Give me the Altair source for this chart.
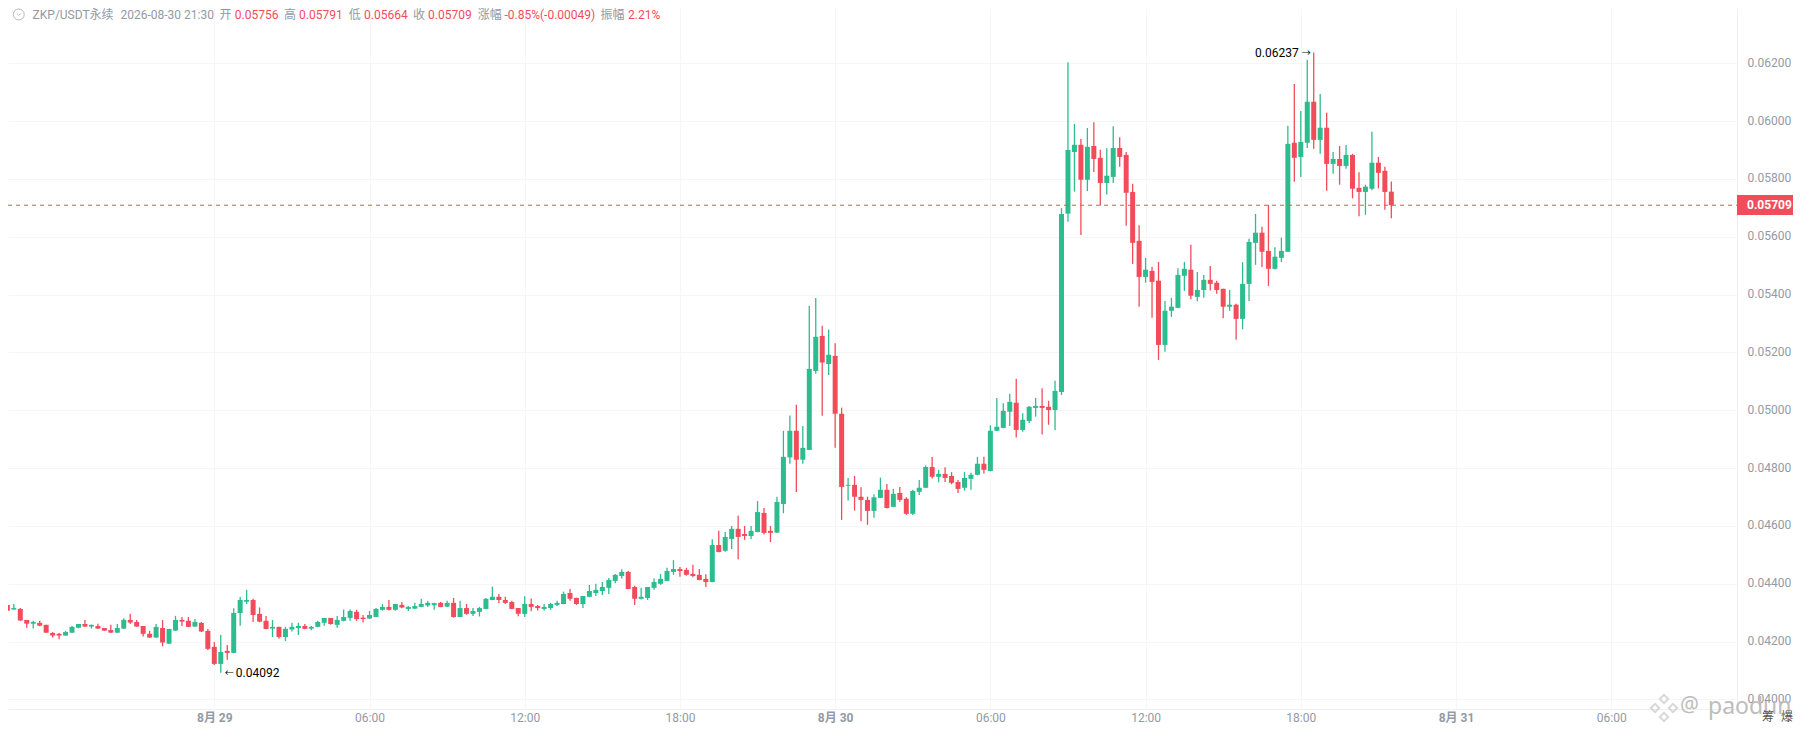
import altair as alt
import pandas as pd

# OHLC of the 15 minute candles, in units of 0.00001 USDT
OPEN = [4297,4327,4311,4313,4275,4262,4265,4258,4230,4227,
4221,4231,4248,4261,4252,4254,4247,4240,4231,4245,
4275,4268,4254,4227,4214,4247,4193,4238,4275,4272,
4252,4265,4237,4182,4123,4168,4161,4299,4338,4344,
4296,4272,4245,4251,4216,4242,4247,4254,4245,4251,
4265,4282,4258,4272,4282,4303,4283,4280,4285,4310,
4320,4310,4327,4313,4314,4320,4325,4326,4334,4321,
4334,4285,4316,4296,4303,4313,4344,4355,4344,4337,
4316,4296,4330,4323,4313,4316,4327,4330,4368,4351,
4330,4355,4368,4375,4386,4410,4427,4441,4389,4348,
4351,4386,4400,4410,4441,4451,4448,4434,4431,4417,
4406,4534,4514,4555,4590,4572,4565,4579,4645,4583,
4577,4676,4837,4929,4829,4863,5136,5257,5160,5188,
4988,4739,4742,4701,4690,4652,4697,4725,4666,4714,
4694,4642,4718,4732,4804,4770,4780,4773,4752,4732,
4763,4777,4815,4790,4929,4939,4995,5026,4932,4963,
5008,5015,5012,5001,5063,5680,5893,5918,5797,5914,
5873,5786,5807,5907,5883,5755,5586,5461,5482,5448,
5226,5344,5354,5465,5486,5392,5416,5451,5441,5420,
5358,5365,5316,5437,5579,5614,5551,5489,5527,5548,
5925,5876,5925,6067,5935,5977,5852,5869,5845,5883,
5769,5755,5766,5856,5828,5756]
HIGH = [4329,4337,4330,4316,4275,4272,4272,4258,4233,4230,
4237,4254,4261,4275,4259,4262,4247,4258,4261,4281,
4296,4275,4254,4237,4261,4275,4244,4289,4285,4285,
4278,4268,4244,4199,4223,4188,4315,4354,4379,4348,
4318,4289,4275,4251,4251,4265,4265,4261,4254,4272,
4282,4282,4289,4311,4311,4310,4292,4306,4316,4330,
4344,4331,4337,4323,4334,4348,4341,4334,4337,4341,
4351,4341,4330,4316,4320,4351,4390,4365,4355,4341,
4316,4357,4349,4327,4330,4334,4341,4373,4382,4352,
4358,4396,4400,4406,4420,4434,4450,4444,4393,4386,
4389,4418,4434,4455,4482,4458,4455,4466,4451,4433,
4554,4583,4579,4600,4635,4600,4600,4686,4662,4600,
4701,4929,4982,5019,4946,5361,5388,5292,5279,5232,
5009,4766,4773,4734,4701,4710,4767,4745,4728,4735,
4699,4725,4759,4809,4838,4794,4803,4786,4759,4787,
4784,4839,4839,4948,5042,5024,5057,5109,4990,5015,
5043,5076,5033,5102,5699,6203,5990,5938,5976,5996,
5901,5906,5982,5944,5893,5783,5640,5527,5496,5513,
5378,5389,5491,5513,5572,5478,5468,5499,5448,5420,
5416,5368,5512,5593,5679,5635,5710,5564,5597,5984,
6128,6035,6212,6237,6094,6029,5893,5914,5917,5887,
5823,5780,5963,5876,5842,5791]
LOW = [4296,4306,4310,4272,4248,4245,4253,4230,4214,4208,
4220,4230,4246,4251,4245,4244,4237,4230,4230,4244,
4261,4251,4218,4213,4213,4184,4192,4237,4254,4250,
4251,4233,4171,4119,4092,4137,4160,4255,4330,4268,
4267,4243,4216,4210,4202,4235,4223,4243,4239,4250,
4255,4258,4248,4270,4272,4272,4266,4278,4284,4307,
4308,4307,4315,4306,4313,4319,4320,4310,4319,4320,
4283,4285,4293,4289,4287,4312,4343,4333,4330,4312,
4288,4285,4305,4308,4308,4310,4323,4329,4341,4327,
4316,4353,4358,4361,4365,4402,4418,4381,4327,4346,
4344,4379,4396,4409,4431,4424,4428,4423,4412,4389,
4405,4509,4511,4520,4485,4552,4555,4578,4570,4544,
4576,4644,4815,4717,4815,4862,5126,4981,5122,4870,
4621,4688,4653,4616,4604,4628,4696,4660,4665,4684,
4638,4638,4707,4731,4764,4751,4752,4744,4714,4722,
4725,4775,4781,4789,4928,4938,4946,4906,4926,4956,
4978,4916,4950,4931,5053,5652,5756,5606,5758,5824,
5708,5746,5786,5842,5638,5506,5358,5441,5320,5174,
5202,5323,5353,5413,5384,5377,5389,5414,5403,5318,
5344,5244,5280,5378,5503,5495,5430,5487,5512,5547,
5790,5807,5907,5904,5887,5759,5818,5780,5835,5733,
5671,5676,5761,5767,5693,5664]
CLOSE = [4325,4307,4316,4273,4262,4268,4255,4231,4221,4221,
4233,4251,4261,4252,4258,4245,4238,4231,4247,4275,
4266,4252,4227,4214,4251,4197,4244,4275,4269,4251,
4268,4235,4175,4123,4164,4161,4299,4344,4344,4292,
4269,4244,4251,4216,4244,4251,4254,4244,4251,4268,
4282,4261,4275,4285,4306,4278,4278,4292,4313,4320,
4310,4330,4318,4320,4323,4330,4334,4333,4320,4334,
4285,4316,4296,4306,4316,4348,4355,4344,4334,4313,
4296,4330,4320,4316,4320,4330,4334,4365,4348,4330,
4358,4375,4379,4389,4413,4431,4441,4382,4348,4355,
4389,4406,4417,4444,4451,4444,4431,4427,4413,4406,
4534,4510,4562,4590,4562,4565,4583,4648,4576,4576,
4683,4839,4929,4829,4870,5143,5254,5165,5192,4988,
4735,4742,4701,4690,4652,4699,4725,4662,4711,4690,
4642,4721,4732,4804,4770,4780,4766,4749,4728,4766,
4777,4815,4794,4929,4943,4998,5029,4932,4967,5012,
5015,5008,5001,5067,5679,5900,5918,5797,5911,5869,
5786,5811,5907,5876,5752,5579,5461,5486,5444,5226,
5344,5358,5468,5489,5396,5416,5451,5437,5416,5358,
5365,5316,5437,5582,5614,5548,5489,5531,5551,5921,
5873,5928,6067,5935,5977,5852,5869,5845,5883,5766,
5755,5773,5856,5821,5755,5709]
assert len(OPEN) == len(HIGH) == len(LOW) == len(CLOSE) == 216

Y_TICKS = [0.040, 0.042, 0.044, 0.046, 0.048, 0.050, 0.052, 0.054, 0.056, 0.058, 0.060, 0.062]
X_TICKS = [33, 57, 81, 105, 129, 153, 177, 201, 225, 249]
X_LABELS = ["8月 29", "06:00", "12:00", "18:00", "8月 30", "06:00", "12:00", "18:00", "8月 31", "06:00"]
LAST_PRICE = 0.05709
MAX_HIGH = 0.06237
MIN_LOW = 0.04092
MAX_I, MIN_I = 203, 34

GREEN = "#2DBC8E"
RED = "#F24C5B"
GREY = "#929AA5"
GRID = "#F6F6F6"
FONT = "Roboto, 'Noto Sans CJK SC', sans-serif"

W, H = 1729, 701
df = pd.DataFrame({
    "i": range(216),
    "o": [v / 1e5 for v in OPEN],
    "h": [v / 1e5 for v in HIGH],
    "l": [v / 1e5 for v in LOW],
    "c": [v / 1e5 for v in CLOSE],
})
df["dir"] = ["up" if c >= o else "down" for o, c in zip(OPEN, CLOSE)]

xs = alt.Scale(domain=[1.10, 268.45], nice=False, zero=False, padding=0)
ys = alt.Scale(domain=[0.03967, 0.06391], nice=False, zero=False)
cs = alt.Scale(domain=["up", "down"], range=[GREEN, RED])
label_js = "[" + ",".join(f"'{t}'" for t in X_LABELS) + "][(datum.value-33)/24]"

x_axis = alt.Axis(values=X_TICKS, labelExpr=label_js, title=None, grid=True, gridColor=GRID,
                  ticks=False, domainColor="#F0F0F0", labelColor=GREY, labelFont=FONT, labelFontSize=12,
                  labelFontWeight={"condition": {"test": "(datum.value-33)%96==0", "value": "bold"}, "value": "normal"},
                  labelPadding=3, labelOverlap=False, labelFlush=False)
y_axis = alt.Axis(values=Y_TICKS, format=".5f", orient="right", title=None, grid=True, gridColor=GRID,
                  ticks=False, domainColor="#F0F0F0", labelColor=GREY, labelFont=FONT, labelFontSize=12,
                  labelPadding=10, labelOffset=-1, labelOverlap=False, labelFlush=False)

base = alt.Chart(df)
wicks = base.mark_rule(strokeWidth=1.3, clip=True).encode(
    x=alt.X("i:Q", scale=xs, axis=x_axis),
    y=alt.Y("l:Q", scale=ys, axis=y_axis),
    y2="h:Q",
    color=alt.Color("dir:N", scale=cs, legend=None),
)
bodies = base.mark_bar(size=5, clip=True, orient="vertical").encode(
    x=alt.X("i:Q", scale=xs),
    y=alt.Y("o:Q", scale=ys),
    y2="c:Q",
    color=alt.Color("dir:N", scale=cs, legend=None),
)

one = pd.DataFrame({"a": [0]})
anno = alt.Chart(one)


def txt(text, x, y, color=GREY, size=12, weight="normal", align="left", font=FONT, opacity=1):
    return anno.mark_text(text=text, align=align, baseline="middle", font=font, fontSize=size,
                          fontWeight=weight, color=color, opacity=opacity).encode(
        x=alt.value(x - 8), y=alt.value(y - 8))


def note(i, price, text, align, dx, size=12):
    d = pd.DataFrame({"i": [i], "p": [price], "t": [text]})
    return alt.Chart(d).mark_text(align=align, baseline="middle", dx=dx, font=FONT, fontSize=size,
                                  color="#000000").encode(
        x=alt.X("i:Q", scale=xs), y=alt.Y("p:Q", scale=ys), text="t:N")


last_line = alt.Chart(pd.DataFrame({"p": [LAST_PRICE]})).mark_rule(
    color=RED, strokeWidth=1, strokeDash=[4, 4]).encode(
    y=alt.Y("p:Q", scale=ys), x=alt.value(0), x2=alt.value(W))
last_box = anno.mark_rect(color=RED).encode(
    x=alt.value(W), x2=alt.value(W + 56), y=alt.value(187), y2=alt.value(207))

header = [
    ("ZKP/USDT永续", 32.6, GREY), ("2026-08-30 21:30", 120.5, GREY),
    ("开", 219.6, GREY), ("0.05756", 234.8, RED),
    ("高", 284, GREY), ("0.05791", 299, RED),
    ("低", 348.7, GREY), ("0.05664", 364, RED),
    ("收", 413, GREY), ("0.05709", 428, RED),
    ("涨幅", 477.7, GREY), ("-0.85%(-0.00049)", 504.5, RED),
    ("振幅", 600.4, GREY), ("2.21%", 628, RED),
]
layers = [wicks, bodies, last_line, last_box,
          txt("0.05709", 1747, 204.5, color="white", weight="bold")]
layers += [txt(t, x, 14.5, color=c) for t, x, c in header]

# collapse icon
layers.append(anno.mark_point(shape="circle", size=120, color=GREY, strokeWidth=1, filled=False).encode(
    x=alt.value(18.75 - 8), y=alt.value(14.5 - 8)))
layers.append(anno.mark_point(shape="M-0.6,-0.25L0,0.3L0.6,-0.25", size=30, color=GREY, strokeWidth=1, filled=False).encode(
    x=alt.value(18.75 - 8), y=alt.value(14.5 - 8)))

# extreme price notes
layers.append(note(MAX_I, MAX_HIGH, f"{MAX_HIGH:.5f}", "right", -15))
layers.append(note(MAX_I, MAX_HIGH, "→", "right", -3, size=9))
layers.append(note(MIN_I, MIN_LOW, "←", "left", 4, size=9))
layers.append(note(MIN_I, MIN_LOW, f"{MIN_LOW:.5f}", "left", 15))

# watermark and corner text
for dx, dy in [(0, -9), (-9, 0), (9, 0), (0, 9)]:
    layers.append(anno.mark_point(shape="diamond", size=70, color="#C9C9C9", strokeWidth=2, filled=False).encode(
        x=alt.value(1664 + dx - 8), y=alt.value(708 + dy - 8)))
layers.append(txt("@", 1680, 706, color="#BDBDBD", size=21, font="'Noto Sans', sans-serif"))
layers.append(txt("paodun", 1708, 707, color="#BDBDBD", size=23, font="'Noto Sans', sans-serif"))
layers.append(txt("筹", 1762, 717, color="#555555", size=12))
layers.append(txt("爆", 1781, 717, color="#555555", size=12))

chart = alt.layer(*layers).resolve_scale(color="shared").properties(
    width=W, height=H,
    padding={"left": 0, "top": 0, "right": 56, "bottom": 15},
    autosize=alt.AutoSizeParams(type="none"),
    background="white",
).configure_view(stroke=None)

chart.save("out.html", embed_options={"renderer": "svg", "actions": False})
